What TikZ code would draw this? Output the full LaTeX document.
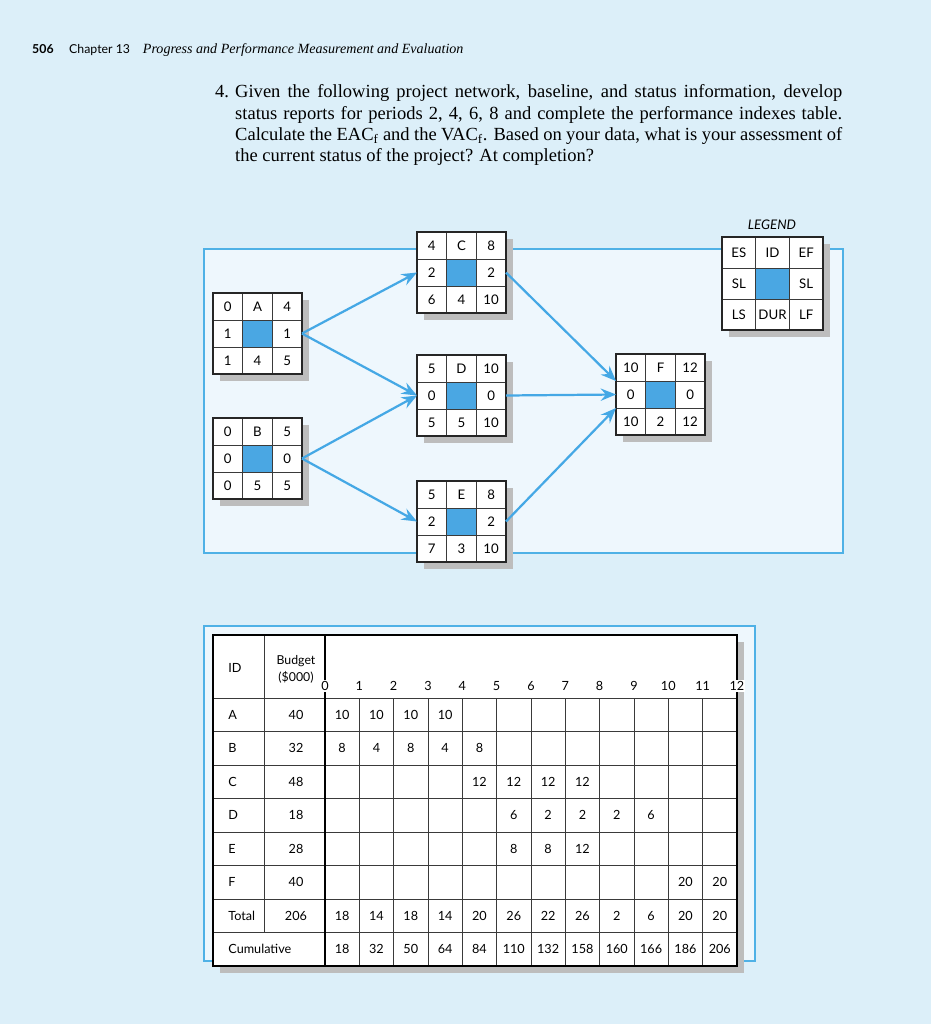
\documentclass[tikz,border=0pt]{standalone}
\usepackage{fontspec}
\setmainfont{Liberation Serif}
\setsansfont{Lato}
\usetikzlibrary{arrows.meta, positioning, shadows}
\definecolor{pagebg}{HTML}{DCEFF9}
\definecolor{panelfill}{HTML}{EEF7FD}
\definecolor{frameblue}{HTML}{4FB1E6}
\definecolor{flowblue}{HTML}{45A8E5}
\definecolor{cellblue}{HTML}{4AA7E3}
\definecolor{shadowgrey}{HTML}{BDBDBD}
\definecolor{gridgrey}{HTML}{3A3A3A}
\newcommand{\actw}{0.89cm}
\newcommand{\acth}{0.81cm}
\tikzset{
  every picture/.style={font=\sffamily},
  cell/.style={draw=gridgrey, line width=0.6pt, fill=white, minimum width=\actw, minimum height=\acth, inner sep=0pt, outer sep=0pt, font=\sffamily\fontsize{11.3}{13}\selectfont},
  actbox/.style={minimum width=3*\actw, minimum height=3*\acth, inner sep=0pt, outer sep=0pt, drop shadow={shadow xshift=0.21cm, shadow yshift=-0.21cm, fill=shadowgrey, opacity=1}},
  boxline/.style={draw=black!85, line width=1pt},
  flow/.style={-{Stealth[length=4.6mm, width=3.7mm, inset=1.6mm]}, draw=flowblue, line width=1.9pt},
  panel/.style={draw=frameblue, fill=panelfill, line width=1.3pt},
  tgrid/.style={draw=gridgrey, line width=0.7pt},
  tnum/.style={font=\sffamily\fontsize{10.8}{12}\selectfont, inner sep=1pt},
  qtext/.style={font=\rmfamily\fontsize{15.8}{18}\selectfont, inner sep=0pt, anchor=base west},
}
% one activity box: name, top left, ES, ID, EF, SL, LS, DUR, LF
\newcommand{\actbox}[9]{%
  \node[actbox, anchor=north west] (#1) at (#2) {};
  \node[cell, anchor=north west] (#1-es) at (#1.north west) {#3};
  \node[cell, right=0pt of #1-es] (#1-id) {#4};
  \node[cell, right=0pt of #1-id] (#1-ef) {#5};
  \node[cell, below=0pt of #1-es] (#1-sl) {#6};
  \node[cell, fill=cellblue, right=0pt of #1-sl] (#1-mid) {};
  \node[cell, right=0pt of #1-mid] (#1-sr) {#6};
  \node[cell, below=0pt of #1-sl] (#1-ls) {#7};
  \node[cell, right=0pt of #1-ls] (#1-dur) {#8};
  \node[cell, right=0pt of #1-dur] (#1-lf) {#9};
  \draw[boxline] (#1.north west) rectangle (#1.south east);
}

\begin{document}
\begin{tikzpicture}[x=0.03cm, y=-0.03cm]
  \useasboundingbox (0,0) rectangle (931,1024);
  \fill[pagebg] (0,0) rectangle (931,1024);
  % page header and question
  \node[anchor=base west, inner sep=0pt, font=\sffamily\bfseries\fontsize{10.5}{12}\selectfont] (pnum) at (32,53.3) {506};
  \node[anchor=base west, inner sep=0pt, font=\sffamily\fontsize{10.5}{12}\selectfont] (chap) at (69,53.3) {Chapter 13};
  \node[anchor=base west, inner sep=0pt, font=\rmfamily\itshape\fontsize{12}{14}\selectfont] (ctitle) at (142.7,53.3) {Progress and Performance Measurement and Evaluation};
  \node[qtext] (qnum) at (215,97.7) {4.};
  \node[qtext] (q1) at (235,97.7) {\makebox[18.21cm][s]{Given the following project network, baseline, and status information, develop}};
  \node[qtext] (q2) at (235,119) {\makebox[18.21cm][s]{status reports for periods 2, 4, 6, 8 and complete the performance indexes table.}};
  \node[qtext] (q3) at (235,140.3) {\makebox[18.21cm][s]{Calculate the EAC\textsubscript{f} and the VAC\textsubscript{f}. Based on your data, what is your assessment of}};
  \node[qtext] (q4) at (235,161.5) {the current status of the project? At completion?};
  % network
  \draw[panel] (204,249) rectangle (843,553);
  \actbox{A}{213,293}{0}{A}{4}{1}{1}{4}{5}
  \actbox{B}{213,418}{0}{B}{5}{0}{0}{5}{5}
  \actbox{C}{417,232}{4}{C}{8}{2}{6}{4}{10}
  \actbox{D}{417,355}{5}{D}{10}{0}{5}{5}{10}
  \actbox{E}{417,481}{5}{E}{8}{2}{7}{3}{10}
  \actbox{F}{616,354}{10}{F}{12}{0}{10}{2}{12}
  \draw[flow] (A-sr.east) -- (C-sl.west);
  \draw[flow] (A-sr.east) -- (D-sl.west);
  \draw[flow] (B-sr.east) -- (D-sl.west);
  \draw[flow] (B-sr.east) -- (E-sl.west);
  \draw[flow] (C-sr.east) -- (F-sl.north west);
  \draw[flow] (D-sr.east) -- (F-sl.west);
  \draw[flow] (E-sr.east) -- (F-sl.south west);
  % legend
  \node[font=\sffamily\itshape\fontsize{11.3}{13}\selectfont] (legtitle) at (772,225) {LEGEND};
  \renewcommand{\actw}{1.01cm}\renewcommand{\acth}{0.93cm}
  \actbox{L}{722,237}{ES}{ID}{EF}{SL}{LS}{DUR}{LF}
  % budget table
  \draw[panel] (204,626) rectangle (755,961);
  \fill[shadowgrey] (220,642) rectangle (744,973);
  \fill[white] (213,635) rectangle (737,966);
  \foreach \r in {0,...,7} \draw[tgrid] (213,{698+33.5*\r}) -- (737,{698+33.5*\r});
  \draw[tgrid] (264,635) -- (264,932);
  \foreach \i in {1,...,11} \draw[tgrid] ({325+34.33*\i},698) -- ({325+34.33*\i},966);
  \draw[line width=1.6pt] (325,635) -- (325,966);
  \draw[line width=1.6pt] (213,635) rectangle (737,966);
  \node[tnum, anchor=west] (hid) at (227,668) {ID};
  \node[tnum, align=center, font=\sffamily\fontsize{10.5}{14.5}\selectfont] (hbud) at (296,669) {Budget\\(\$000)};
  \foreach \i in {0,...,12} \node[tnum, fill=white] (p\i) at ({325+34.33*\i},686) {\i};
  \foreach \r/\lab/\bud/\st/\vals in {1/A/40/1/{10,10,10,10}, 2/B/32/1/{8,4,8,4,8}, 3/C/48/5/{12,12,12,12}, 4/D/18/6/{6,2,2,2,6}, 5/E/28/6/{8,8,12}, 6/F/40/11/{20,20}, 7/Total/206/1/{18,14,18,14,20,26,22,26,2,6,20,20}}{
    \node[tnum, anchor=west] (r\r) at (227,{698+33.5*(\r-0.5)}) {\lab};
    \node[tnum] (b\r) at (296,{698+33.5*(\r-0.5)}) {\bud};
    \foreach \v [count=\k from \st] in \vals
      \node[tnum] (v\r-\k) at ({325+34.33*(\k-0.5)},{698+33.5*(\r-0.5)}) {\v};
  }
  \node[tnum, anchor=west] (r8) at (227,{698+33.5*7.5}) {Cumulative};
  \foreach \v [count=\k] in {18,32,50,64,84,110,132,158,160,166,186,206}
    \node[tnum] (v8-\k) at ({325+34.33*(\k-0.5)},{698+33.5*7.5}) {\v};
\end{tikzpicture}
\end{document}
